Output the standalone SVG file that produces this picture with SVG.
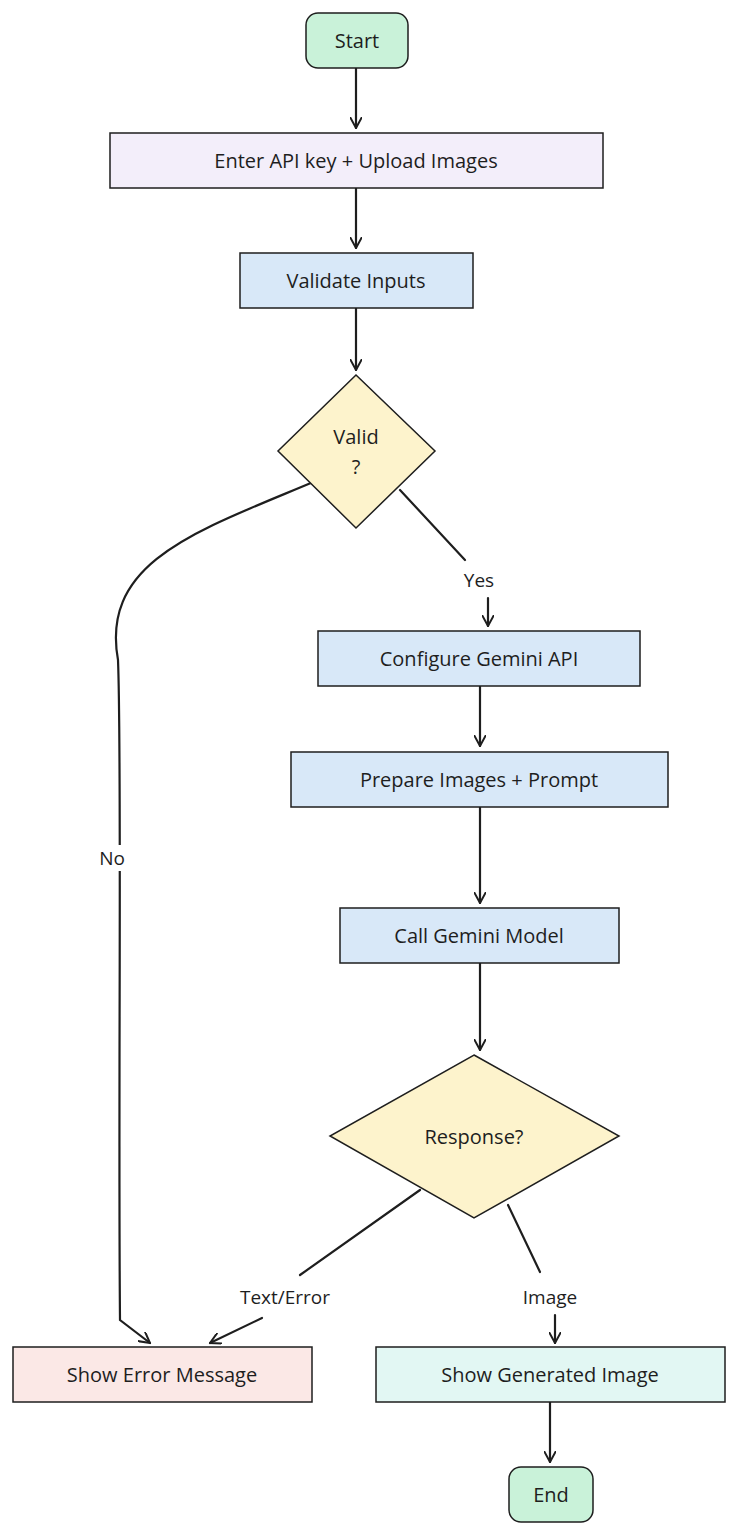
<svg xmlns="http://www.w3.org/2000/svg" width="738" height="1536" viewBox="0 0 738 1536">
<style>
.n{stroke:#1e1e1e;stroke-width:1.5}
.t{font-family:"Open Sans","DejaVu Sans",sans-serif;font-size:20px;fill:#1e1e1e;text-anchor:middle;dominant-baseline:central}
.c{fill:none;stroke:#1e1e1e;stroke-width:2.2;stroke-linecap:round}
.lb{font-family:"Open Sans","DejaVu Sans",sans-serif;font-size:19px;fill:#1e1e1e;text-anchor:middle;dominant-baseline:central}
.bg{fill:#fff}
</style>
<defs><marker id="a" viewBox="0 0 12 12" refX="11" refY="6" markerWidth="12" markerHeight="12" markerUnits="userSpaceOnUse" orient="auto"><path d="M0,0 L11,6 L0,12" fill="none" stroke="#1e1e1e" stroke-width="2"/></marker></defs>
<rect width="738" height="1536" fill="#fff"/>
<g id="connectors">
<path class="c" marker-end="url(#a)" d="M356,68 L356,128"/>
<path class="c" marker-end="url(#a)" d="M356,188 L356,248"/>
<path class="c" marker-end="url(#a)" d="M356,308 L356,370"/>
<path class="c" d="M400,490 L465,560"/>
<path class="c" marker-end="url(#a)" d="M488,598 L488,626"/>
<path class="c" marker-end="url(#a)" d="M318,480 C200,530 100,560 118,660 C122,760 118,1100 120,1320 L150,1343"/>
<path class="c" marker-end="url(#a)" d="M480,686 L480,746"/>
<path class="c" marker-end="url(#a)" d="M480,807 L480,903"/>
<path class="c" marker-end="url(#a)" d="M480,963 L480,1050"/>
<path class="c" d="M420,1190 L300,1275"/>
<path class="c" marker-end="url(#a)" d="M262,1318 L210,1343"/>
<path class="c" d="M508,1205 L540,1272"/>
<path class="c" marker-end="url(#a)" d="M555,1315 L555,1343"/>
<path class="c" marker-end="url(#a)" d="M550,1402 L550,1462"/>
<rect class="bg" x="98" y="845" width="30" height="26"/>
<text class="lb" x="479" y="580">Yes</text>
<text class="lb" x="112" y="858">No</text>
<text class="lb" x="285" y="1297">Text/Error</text>
<text class="lb" x="550" y="1297">Image</text>
</g>
<g id="start"><rect class="n" x="306" y="13" width="102" height="55" rx="12" fill="#c9f2d9"/><text class="t" x="357" y="40">Start</text></g>
<g id="enter"><rect class="n" x="110" y="133" width="493" height="55" fill="#f3eefa"/><text class="t" x="356" y="160">Enter API key + Upload Images</text></g>
<g id="validate"><rect class="n" x="240" y="253" width="233" height="55" fill="#d8e8f8"/><text class="t" x="356" y="280">Validate Inputs</text></g>
<g id="valid"><path class="n" d="M356,375 L435,451 L356,528 L278,451 Z" fill="#fdf3cc"/><text class="t" x="356" y="436">Valid</text><text class="t" x="356" y="466">?</text></g>
<g id="configure"><rect class="n" x="318" y="631" width="322" height="55" fill="#d8e8f8"/><text class="t" x="479" y="658">Configure Gemini API</text></g>
<g id="prepare"><rect class="n" x="291" y="752" width="377" height="55" fill="#d8e8f8"/><text class="t" x="479" y="779">Prepare Images + Prompt</text></g>
<g id="call"><rect class="n" x="340" y="908" width="279" height="55" fill="#d8e8f8"/><text class="t" x="479" y="935">Call Gemini Model</text></g>
<g id="response"><path class="n" d="M474,1055 L619,1136 L474,1218 L330,1136 Z" fill="#fdf3cc"/><text class="t" x="474" y="1136">Response?</text></g>
<g id="error"><rect class="n" x="13" y="1347" width="299" height="55" fill="#fbe8e6"/><text class="t" x="162" y="1374">Show Error Message</text></g>
<g id="generated"><rect class="n" x="376" y="1347" width="349" height="55" fill="#e2f7f3"/><text class="t" x="550" y="1374">Show Generated Image</text></g>
<g id="end"><rect class="n" x="509" y="1467" width="84" height="55" rx="12" fill="#c9f2d9"/><text class="t" x="551" y="1494">End</text></g>
</svg>
